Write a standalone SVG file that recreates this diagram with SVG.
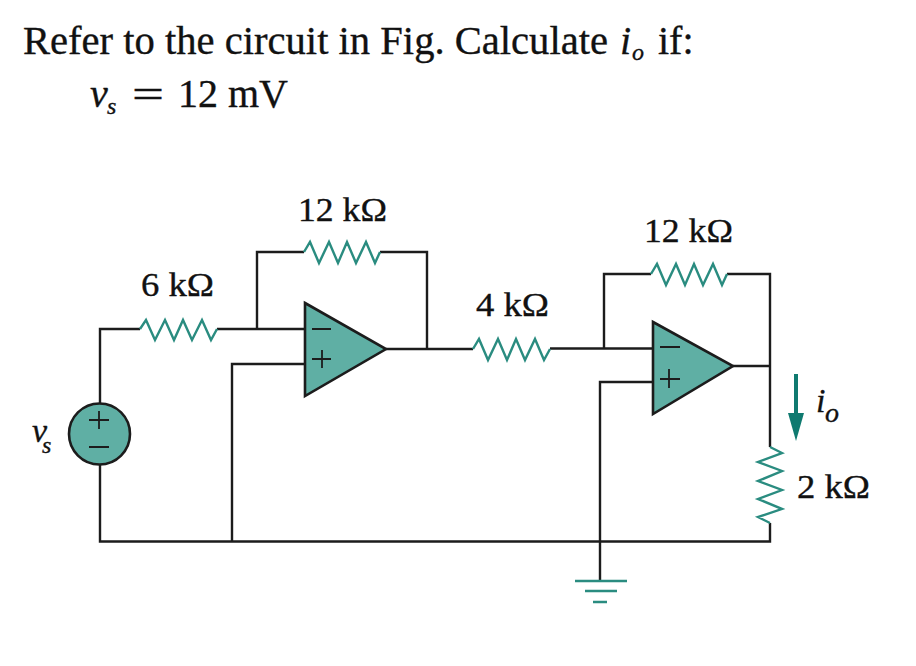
<svg xmlns="http://www.w3.org/2000/svg" width="916" height="666" viewBox="0 0 916 666">
<style>
.w{fill:none;stroke:#1c1c1c;stroke-width:2.4}
.r{fill:none;stroke:#2a8c80;stroke-width:2.4}
.e{fill:#5fafa4;stroke:#1c1c1c;stroke-width:2.6}
.s{fill:none;stroke:#1c1c1c;stroke-width:1.8}
.g{fill:none;stroke:#2a8c80;stroke-width:2.4}
text{font-family:"Liberation Serif","Times New Roman",serif;fill:#111;stroke:#111;stroke-width:.35}
.t{font-size:40px}
.l{font-size:34px}
.i{font-style:italic}
</style>
<rect width="916" height="666" fill="#fff"/>
<g id="connectors">
<path class="w" d="M100 404V329H140"/>
<path class="w" d="M217 329H305"/>
<path class="w" d="M257 329V252H304"/>
<path class="w" d="M380 252H427V349"/>
<path class="w" d="M386 349H473"/>
<path class="w" d="M550 348.500H653"/>
<path class="w" d="M604 348.500V274H651"/>
<path class="w" d="M727 274H770V447"/>
<path class="w" d="M733 366H770"/>
<path class="w" d="M305 364H232V541"/>
<path class="w" d="M653 382H600V581"/>
<path class="w" d="M100 465V541.500H770V523"/>
</g>
<g id="title">
<text class="t" x="23" y="54" textLength="585" lengthAdjust="spacingAndGlyphs">Refer to the circuit in Fig. Calculate</text>
<text class="t i" x="620" y="54">i</text><text class="i" font-size="24" x="632" y="60">o</text>
<text class="t" x="658" y="54">if:</text>
</g>
<g id="given">
<text class="t i" x="90" y="107">v</text><text class="i" font-size="24" x="107" y="114">s</text>
<text class="t" x="132" y="108" textLength="32" lengthAdjust="spacingAndGlyphs">=</text>
<text class="t" x="178" y="107" textLength="110" lengthAdjust="spacingAndGlyphs">12 mV</text>
</g>
<g id="r1"><path class="r" d="M140 329L146 320L155 340L165 320L174 340L183 320L192 340L202 320L211 340L217 329"/><text class="l" x="141" y="296" textLength="73" lengthAdjust="spacingAndGlyphs">6 kΩ</text></g>
<g id="r2"><path class="r" d="M304 252L310 242L319 263L329 242L338 263L347 242L356 263L366 242L375 263L380 252"/><text class="l" x="298" y="221" textLength="89" lengthAdjust="spacingAndGlyphs">12 kΩ</text></g>
<g id="r3"><path class="r" d="M473 349L479 339L488 360L498 339L507 360L516 339L525 360L535 339L544 360L550 349"/><text class="l" x="476" y="316" textLength="73" lengthAdjust="spacingAndGlyphs">4 kΩ</text></g>
<g id="r4"><path class="r" d="M651 274L657 264L666 285L676 264L685 285L694 264L703 285L713 264L722 285L727 274"/><text class="l" x="644" y="242" textLength="89" lengthAdjust="spacingAndGlyphs">12 kΩ</text></g>
<g id="r5"><path class="r" d="M770 447L782 453L758 462L782 471L758 481L782 490L758 499L782 509L758 517L770 523"/><text class="l" x="797" y="498" textLength="73" lengthAdjust="spacingAndGlyphs">2 kΩ</text></g>
<g id="opamp1"><path class="e" d="M305 303L386 349L305 396Z"/><path class="s" d="M312 329H331M312 359H331M322 350V368"/></g>
<g id="opamp2"><path class="e" d="M653 322L733 366L653 414Z"/><path class="s" d="M660 347H680M660 379H680M669 369V388"/></g>
<g id="vs"><circle class="e" cx="99.500" cy="434" r="30.500"/><path class="s" d="M89 420H109M99 411V429M89 447H109"/><text class="i" font-size="34" x="32" y="442">v<tspan font-size="24" dx="-5" dy="11">s</tspan></text></g>
<g id="ground"><path class="g" d="M575 581H627M585 591H617M593 602H607"/></g>
<g id="io"><path d="M796 374V415" fill="none" stroke="#0f7a70" stroke-width="4"/><path d="M788 413H804L796 441Z" fill="#0f7a70"/><text class="i" font-size="34" x="816" y="412">i</text><text class="i" font-size="28" x="825" y="422">o</text></g>
</svg>
